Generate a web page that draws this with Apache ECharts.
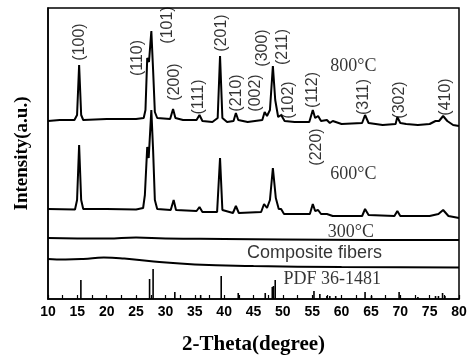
<!DOCTYPE html>
<html>
<head>
<meta charset="utf-8">
<script src="https://cdn.jsdelivr.net/npm/echarts@6/dist/echarts.min.js"></script>
<style>html,body{margin:0;padding:0;background:#fff}#c{width:474px;height:355px}</style>
</head>
<body>
<div id="c"></div>
<script>
// 2-Theta (degree) / Intensity (a.u., curves stacked as in the figure)
const theta800 = [10,12,14.5,14.95,15.3,15.65,16.0,20,25,26.3,26.6,26.9,27.2,27.6,27.9,28.2,28.6,30.8,31.3,31.7,33,35.3,35.8,36.3,38,38.9,39.3,39.7,40.5,41.6,42.0,42.4,44,46.5,46.9,47.3,47.8,48.3,48.7,49.2,49.7,50.3,52,54.5,55.1,55.5,56.0,56.5,57.5,58.0,58.5,60,63.5,64.0,64.6,67,69.2,69.5,70,71,73,75,76,76.6,77.3,78,79,80];
const int800   = [178,179,179,184,234,184,179,180,180,181,189,241,237,268,229,187,181,180,190,181,179,179,184,178,177,181,243,181,177,178,186,179,177,179,187,183,189,233,199,182,184,178,177,177,189,181,183,178,179,176,178,175,176,184,176,174,175,182,176,175,174,175,178,178,183,178,174,173];

const theta600 = [10,14.6,14.95,15.3,15.65,16.0,20,25,26.2,26.5,26.9,27.15,27.6,27.9,28.2,28.6,30.9,31.4,31.8,35.3,35.8,36.3,38.8,39.3,39.7,41.5,42.0,42.5,46.3,46.8,47.3,47.8,48.3,48.8,49.3,49.7,50.2,54.6,55.1,55.5,56.0,56.5,57.5,58.5,63.5,64.0,64.6,69.0,69.5,70.0,75,76.5,77.3,78.2,80];
const int600   = [90,89.5,99,154,99,90,90,89.5,91,104,152,141,189,149,99,90,89,99,89,88,92,87,87,141,89,86,93,86,87,95,91,99,131,101,90,90,85,85,95,88,89,85,85,83,83,90,84,83,88,83,83,85,89,83,81];

const theta300 = [10,20,25,30,40,50,65,80];
const int300   = [61,60.5,61.5,60.5,60,59.5,59,59];

const thetaFiber = [10,13,16,19.5,23,28,35,45,60,80];
const intFiber   = [40,39.5,40,41.5,40.5,37.5,34.5,33,32,31.5];

// PDF 36-1481 reference lines
const pdfTheta = [15.6,27.3,27.9,31.6,36.0,39.5,42.4,47.0,48.2,48.4,48.7,55.3,56.3,57.5,58.0,59.0,64.0,65.1,69.8,73.0,76.0,76.5,77.2,77.6];
const pdfInt   = [19,20,30,7,4,23,6,6,12,13,19,8,5,3,3,3,7,3,7,2,3,3,6,3];

// Miller index annotations
const hklNames = ['(100)','(110)','(101)','(200)','(111)','(201)','(210)','(002)','(300)','(211)','(102)','(112)','(220)','(311)','(302)','(410)'];
const hklTheta = [15.45,25.33,30.4,31.6,35.7,39.6,42.2,45.3,46.6,50.0,50.9,55.0,55.8,63.8,69.8,77.8];
const hklInt   = [257,241,274,217,202,266,206,206,251,252,199,209,152,202,199,202];

// Curve labels
const curveNames = ['800°C','600°C','300°C','Composite fibers','PDF 36-1481'];
const curveTheta = [62.0,62.0,61.6,55.4,58.4];
const curveInt   = [233,125,67,46,20];
const curveFonts = ['serif','serif','serif','sans','serif'];

const xTicks = {min:10, max:80, interval:5};

const zip = (a,b) => a.map((v,i)=>[v,b[i]]);
const lineSeries = (x,y,smooth) => ({
  type:'line', data:zip(x,y), showSymbol:false, smooth:smooth, silent:true,
  lineStyle:{color:'#000', width:2}, z:3
});

const chart = echarts.init(document.getElementById('c'), null, {renderer:'canvas'});
chart.setOption({
  animation:false,
  grid:{left:48, right:15, top:8, bottom:56, show:true, borderColor:'#000', borderWidth:1.5,
        backgroundColor:'transparent', containLabel:false, outerBoundsMode:'none'},
  xAxis:{
    type:'value', min:xTicks.min, max:xTicks.max, interval:xTicks.interval,
    name:'2-Theta(degree)', nameLocation:'middle', nameGap:35,
    nameTextStyle:{fontFamily:'Liberation Serif, Times New Roman, serif', fontWeight:'bold', fontSize:21, color:'#000'},
    axisLine:{show:true, lineStyle:{color:'#000', width:1.5}},
    axisTick:{show:true, inside:true, length:4, lineStyle:{color:'#000', width:1.2}},
    minorTick:{show:true, splitNumber:2, length:4, lineStyle:{color:'#000', width:1.2}},
    axisLabel:{fontFamily:'Liberation Sans, Arial, sans-serif', fontWeight:'bold', fontSize:14, color:'#000', margin:6},
    splitLine:{show:false}, minorSplitLine:{show:false}
  },
  yAxis:{
    type:'value', min:0, max:291,
    name:'Intensity(a.u.)', nameLocation:'middle', nameGap:16,
    nameTextStyle:{fontFamily:'Liberation Serif, Times New Roman, serif', fontWeight:'bold', fontSize:19, color:'#000'},
    axisLine:{show:true, lineStyle:{color:'#000', width:1.5}},
    axisTick:{show:false}, axisLabel:{show:false}, splitLine:{show:false}
  },
  series:[
    lineSeries(theta800,int800,false),
    lineSeries(theta600,int600,false),
    lineSeries(theta300,int300,true),
    lineSeries(thetaFiber,intFiber,true),
    {type:'bar', data:zip(pdfTheta,pdfInt), barWidth:1.6, silent:true, itemStyle:{color:'#000'}, z:3},
    {type:'scatter', symbolSize:0, silent:true, z:5,
     data:hklNames.map((n,i)=>({name:n, value:[hklTheta[i],hklInt[i]]})),
     label:{show:true, position:'inside', rotate:90, formatter:p=>p.name,
            fontFamily:'Liberation Sans, Arial, sans-serif', fontSize:16, color:'#000'}},
    {type:'scatter', symbolSize:0, silent:true, z:5,
     data:curveNames.map((n,i)=>({name:n, value:[curveTheta[i],curveInt[i]],
       label:{fontFamily: curveFonts[i]==='serif' ? 'Liberation Serif, Times New Roman, serif' : 'Liberation Sans, Arial, sans-serif'}})),
     label:{show:true, position:'inside', formatter:p=>p.name, fontSize:18, color:'#000'}}
  ]
});
</script>
</body>
</html>
